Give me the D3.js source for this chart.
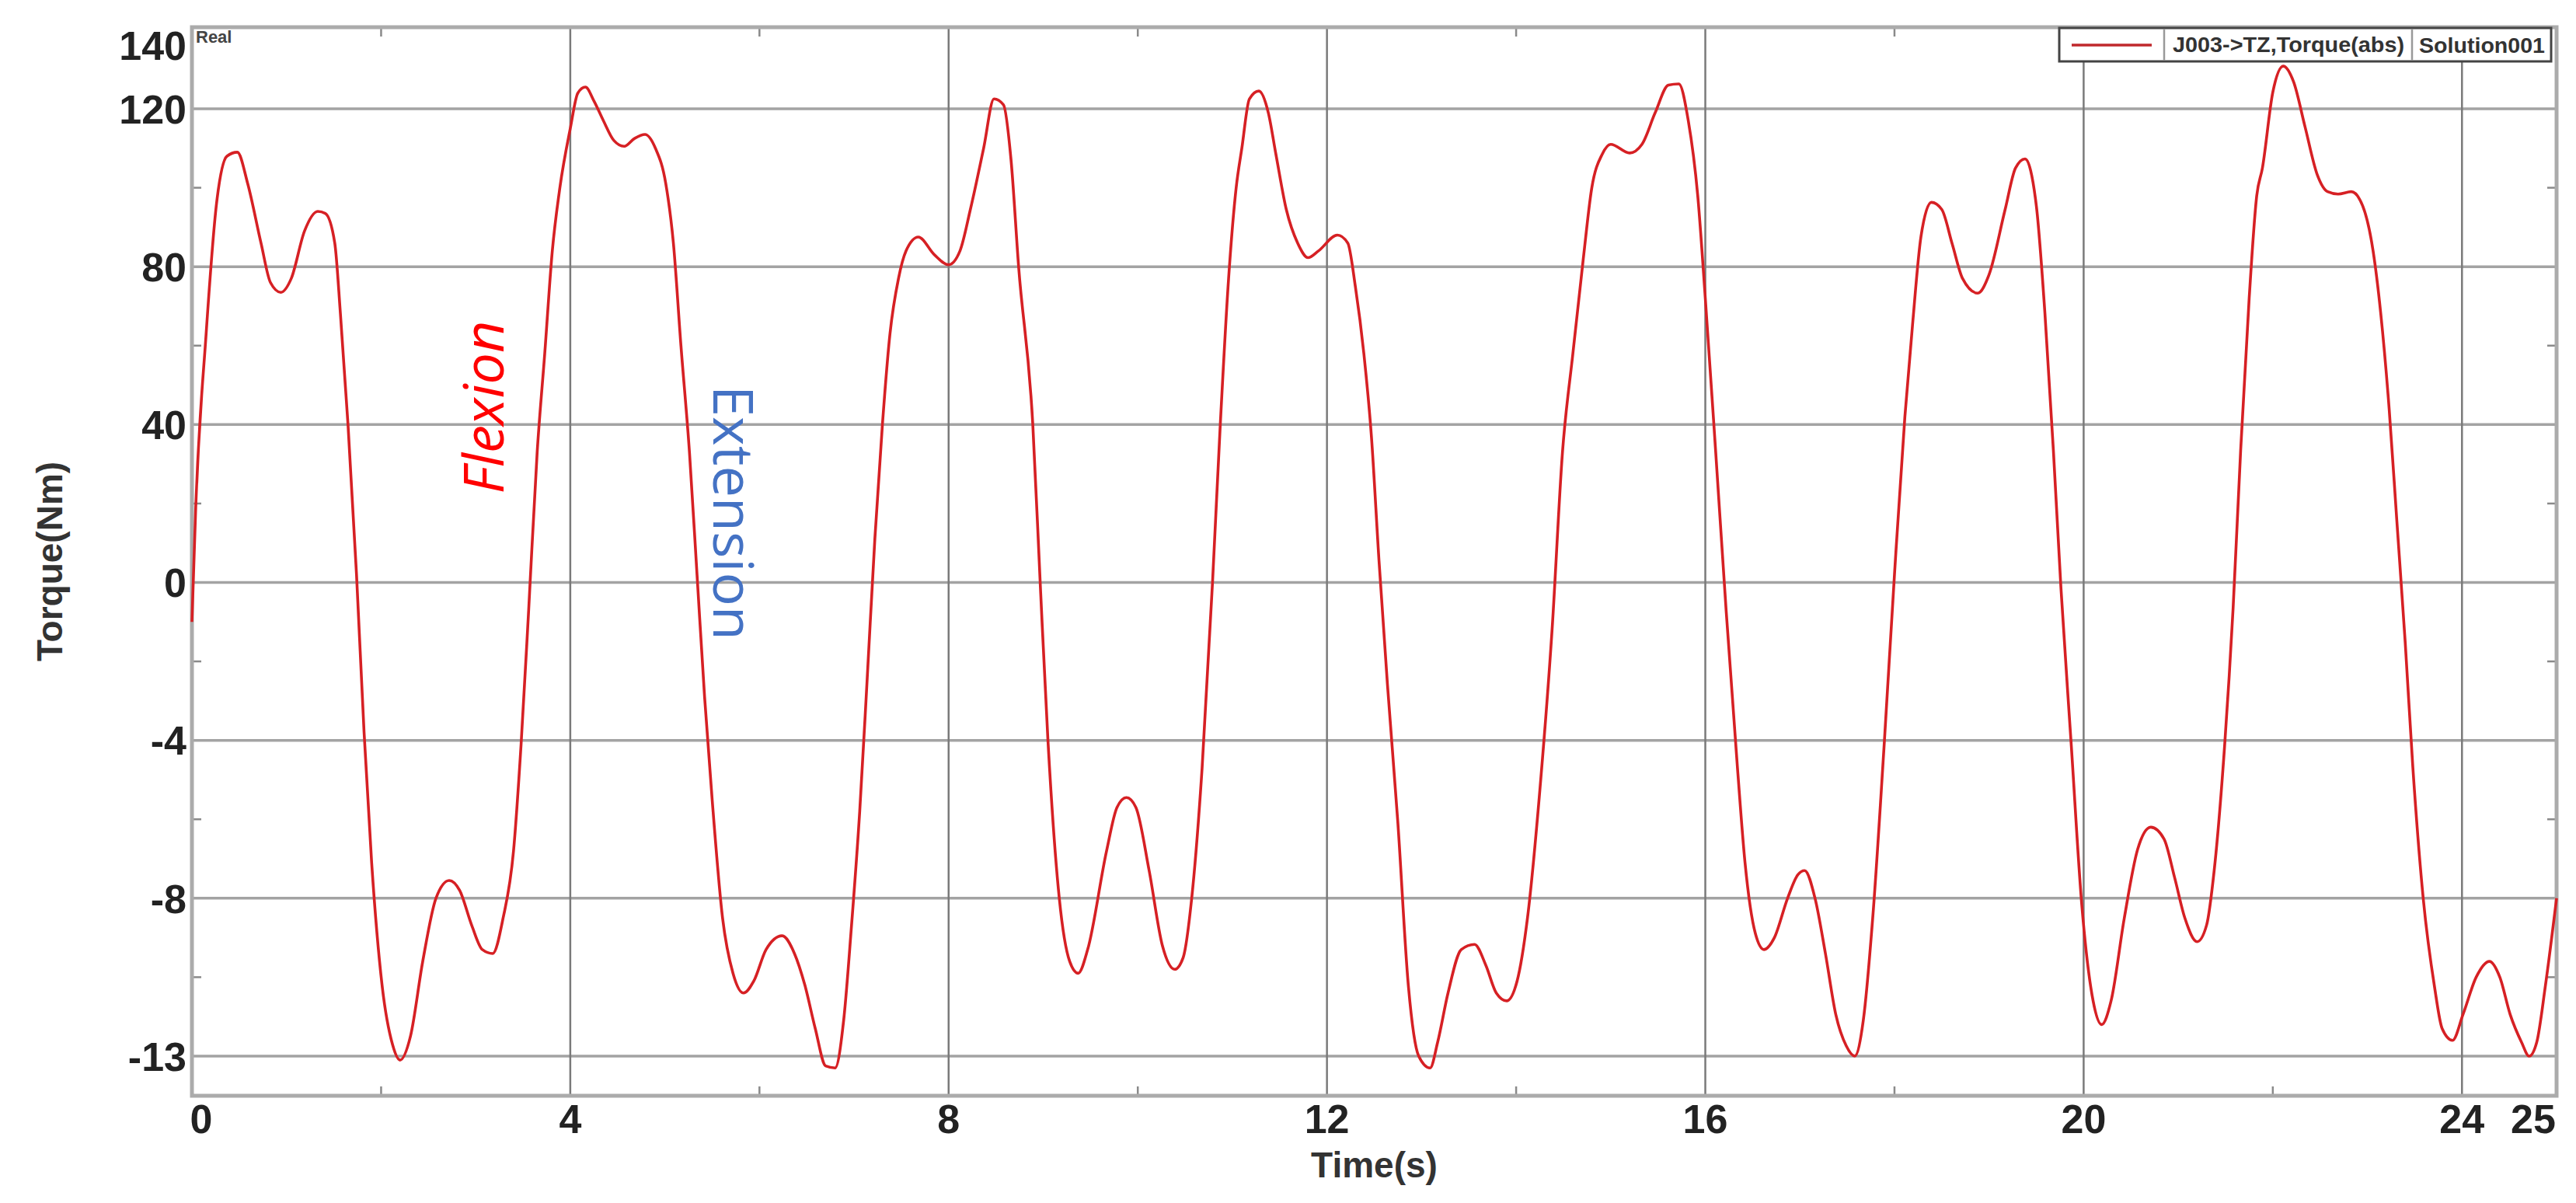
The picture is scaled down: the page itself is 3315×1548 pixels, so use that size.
<!DOCTYPE html>
<html>
<head>
<meta charset="utf-8">
<script src="https://cdn.jsdelivr.net/npm/d3@7"></script>
<style>
  body { margin: 0; background: #fff; }
  svg { display: block; }
</style>
</head>
<body>
<script>
// torque trace: [time s, torque]
const torque = [
  [0, -10], [0.04, 19], [0.15, 63], [0.26, 96], [0.37, 108], [0.48, 109], [0.59, 101], [0.73, 86],
  [0.83, 76], [0.94, 73.5], [1.05, 77], [1.19, 89], [1.33, 94], [1.41, 93.5], [1.51, 86], [1.57, 68],
  [1.65, 40], [1.74, 2], [1.82, -38], [1.9, -71], [2.01, -102], [2.12, -117], [2.2, -121], [2.31, -115],
  [2.44, -96], [2.58, -80], [2.72, -75.5], [2.83, -78], [2.96, -87], [3.07, -93], [3.18, -94], [3.29, -85],
  [3.4, -68], [3.48, -41], [3.56, -7], [3.65, 33], [3.73, 58], [3.81, 84], [3.89, 100], [4.0, 115],
  [4.08, 124], [4.16, 125.5], [4.25, 122], [4.35, 117], [4.46, 112], [4.57, 110.5], [4.68, 112.5], [4.79, 113.5],
  [4.9, 110], [5.01, 101], [5.09, 86], [5.17, 60], [5.26, 33], [5.34, 2], [5.42, -29], [5.5, -55],
  [5.61, -85], [5.72, -99], [5.83, -104], [5.94, -101], [6.07, -93], [6.24, -89.5], [6.37, -94], [6.48, -102],
  [6.59, -113], [6.7, -122.5], [6.8, -123], [6.89, -111], [6.97, -88], [7.06, -58], [7.14, -24], [7.22, 11],
  [7.3, 40], [7.38, 63], [7.47, 77], [7.55, 84], [7.68, 87.5], [7.85, 83], [8.0, 80.5], [8.12, 84],
  [8.23, 94.5], [8.37, 110], [8.48, 122.5], [8.58, 121], [8.66, 107], [8.74, 80], [8.89, 40], [8.97, -1],
  [9.05, -40], [9.17, -80], [9.28, -96], [9.37, -99], [9.47, -93], [9.67, -68], [9.78, -57], [9.88, -54.5],
  [9.98, -57], [10.12, -73], [10.26, -92], [10.39, -98], [10.48, -95], [10.57, -80], [10.68, -47], [10.79, 0],
  [10.87, 39], [10.96, 77], [11.04, 100], [11.1, 110], [11.18, 122.5], [11.28, 124.5], [11.38, 119], [11.46, 108.5],
  [11.57, 94.5], [11.69, 86], [11.8, 82.3], [11.91, 84], [12.11, 88], [12.22, 86], [12.3, 75], [12.39, 58],
  [12.47, 37], [12.55, 5.6], [12.64, -26], [12.75, -61], [12.86, -102], [12.97, -120], [13.09, -123], [13.17, -116.5],
  [13.28, -104], [13.42, -93], [13.56, -91.7], [13.68, -97], [13.79, -104], [13.9, -106], [14.01, -101], [14.12, -85],
  [14.26, -50], [14.38, -12], [14.49, 33], [14.6, 58], [14.71, 82], [14.8, 100], [14.91, 108.5], [15.0, 111],
  [15.2, 108.8], [15.33, 111], [15.47, 119], [15.61, 126], [15.72, 126.3], [15.82, 117], [15.92, 98], [16.0, 72],
  [16.11, 33], [16.22, -7], [16.34, -47], [16.42, -71], [16.53, -89], [16.62, -93], [16.73, -90], [16.87, -80],
  [16.98, -74], [17.05, -73], [17.16, -80], [17.27, -94], [17.38, -109.5], [17.49, -117.4], [17.58, -120], [17.67, -111],
  [17.77, -85], [17.89, -41.5], [18.0, 2], [18.11, 42], [18.19, 65], [18.28, 87.6], [18.39, 96.3], [18.5, 94.5],
  [18.61, 85.8], [18.72, 77], [18.88, 73.3], [19.0, 78], [19.17, 94.5], [19.28, 105], [19.38, 107.3], [19.5, 95.4],
  [19.59, 68.4], [19.68, 33.5], [19.76, -1.4], [19.87, -41.5], [19.98, -81.6], [20.1, -106], [20.19, -112], [20.29, -106],
  [20.43, -85], [20.57, -67.7], [20.71, -62], [20.85, -65], [20.96, -74.6], [21.07, -85], [21.2, -91], [21.3, -86.8],
  [21.38, -73], [21.49, -41.5], [21.58, -6.6], [21.66, 33.5], [21.75, 72], [21.83, 98], [21.89, 105], [22.0, 124.2],
  [22.11, 130.8], [22.22, 126.8], [22.34, 115.5], [22.47, 103.3], [22.58, 99], [22.69, 98.4], [22.83, 99], [22.95, 95.4],
  [23.06, 84], [23.14, 68.4], [23.23, 44], [23.31, 16], [23.4, -15.3], [23.48, -46.7], [23.59, -80], [23.71, -102.5],
  [23.79, -113], [23.9, -116], [24.01, -109.5], [24.15, -100], [24.29, -96], [24.4, -100], [24.51, -109.5], [24.63, -116.5],
  [24.71, -120], [24.79, -116.5], [24.88, -102.5], [25.0, -80]
];

// y tick labels as printed in the figure
const yTickValues = [140, 120, 80, 40, 0, -40, -80, -120];
const yTickLabels = ["140", "120", "80", "40", "0", "-4", "-8", "-13"];
const yGrid = [120, 80, 40, 0, -40, -80, -120];
const yMinor = [100, 60, 20, -20, -60, -100];
const xTickValues = [0, 4, 8, 12, 16, 20, 24, 25];
const xGrid = [4, 8, 12, 16, 20, 24];
const xMinor = [2, 6, 10, 14, 18, 22];
const legendLabel = "J003->TZ,Torque(abs)";
const legendSolution = "Solution001";

const W = 3315, H = 1548;
const pL = 247, pR = 3290, pT = 35, pB = 1410;

const x = d3.scaleLinear().domain([0, 25]).range([pL, pR]);
const y = d3.scaleLinear().domain([-120, 120]).range([1359, 140]);

const svg = d3.select("body").append("svg").attr("width", W).attr("height", H);
const font = "'Liberation Sans', Arial, sans-serif";

// gridlines
svg.append("g").selectAll("line").data(yGrid).join("line")
  .attr("x1", pL).attr("x2", pR).attr("y1", d => y(d)).attr("y2", d => y(d))
  .attr("stroke", "#a3a3a3").attr("stroke-width", 3.5);
svg.append("g").selectAll("line").data(xGrid).join("line")
  .attr("x1", d => x(d)).attr("x2", d => x(d)).attr("y1", pT).attr("y2", pB)
  .attr("stroke", "#7a7a7a").attr("stroke-width", 2.5);

// minor ticks
const tk = 12;
const minor = svg.append("g").attr("stroke", "#8a8a8a").attr("stroke-width", 2.5);
yMinor.forEach(v => {
  minor.append("line").attr("x1", pL).attr("x2", pL + tk).attr("y1", y(v)).attr("y2", y(v));
  minor.append("line").attr("x1", pR - tk).attr("x2", pR).attr("y1", y(v)).attr("y2", y(v));
});
xMinor.forEach(v => {
  minor.append("line").attr("x1", x(v)).attr("x2", x(v)).attr("y1", pB).attr("y2", pB - tk);
  minor.append("line").attr("x1", x(v)).attr("x2", x(v)).attr("y1", pT).attr("y2", pT + tk);
});

// frame
svg.append("rect").attr("x", pL).attr("y", pT).attr("width", pR - pL).attr("height", pB - pT)
  .attr("fill", "none").attr("stroke", "#ababab").attr("stroke-width", 5);

// curve
const line = d3.line().x(d => x(d[0])).y(d => y(d[1])).curve(d3.curveMonotoneX);
svg.append("path").datum(torque).attr("d", line)
  .attr("fill", "none").attr("stroke", "#d62024").attr("stroke-width", 3.6);

// y tick labels
svg.append("g").selectAll("text").data(yTickValues).join("text")
  .attr("x", 240).attr("y", (d, i) => i === 0 ? 58 : y(d))
  .attr("dy", "0.36em").attr("text-anchor", "end")
  .attr("font-family", font).attr("font-weight", "bold").attr("font-size", 52).attr("fill", "#222")
  .text((d, i) => yTickLabels[i]);

// x tick labels
svg.append("g").selectAll("text").data(xTickValues).join("text")
  .attr("x", d => d === 0 ? x(d) + 12 : d === 25 ? x(d) - 30 : x(d))
  .attr("y", 1458).attr("text-anchor", "middle")
  .attr("font-family", font).attr("font-weight", "bold").attr("font-size", 52).attr("fill", "#222")
  .text(d => d);

// axis titles
svg.append("text").attr("transform", `translate(80,${(pT + pB) / 2}) rotate(-90)`)
  .attr("text-anchor", "middle").attr("font-family", font).attr("font-weight", "bold")
  .attr("font-size", 46).attr("fill", "#333").text("Torque(Nm)");
svg.append("text").attr("x", (pL + pR) / 2).attr("y", 1515)
  .attr("text-anchor", "middle").attr("font-family", font).attr("font-weight", "bold")
  .attr("font-size", 46).attr("fill", "#333").text("Time(s)");

svg.append("text").attr("x", 252).attr("y", 55)
  .attr("font-family", font).attr("font-weight", "bold").attr("font-size", 22).attr("fill", "#444").text("Real");

// annotations
svg.append("text").attr("transform", "translate(648,524) rotate(-90)")
  .attr("text-anchor", "middle").attr("font-family", "'Open Sans', sans-serif").attr("font-style", "italic")
  .attr("font-size", 72).attr("fill", "#ff0000").text("Flexion");
svg.append("text").attr("transform", "translate(918,660) rotate(90)")
  .attr("text-anchor", "middle").attr("font-family", "'Open Sans', sans-serif")
  .attr("font-size", 72).attr("fill", "#4472c4").text("Extension");

// legend
const lg = svg.append("g");
lg.append("rect").attr("x", 2650).attr("y", 36).attr("width", 633).attr("height", 43)
  .attr("fill", "#fff").attr("stroke", "#444").attr("stroke-width", 3);
[2785, 3104].forEach(xx => lg.append("line").attr("x1", xx).attr("x2", xx).attr("y1", 37).attr("y2", 78)
  .attr("stroke", "#999").attr("stroke-width", 2.5));
lg.append("line").attr("x1", 2666).attr("x2", 2769).attr("y1", 58).attr("y2", 58)
  .attr("stroke", "#c0282c").attr("stroke-width", 3.5);
lg.append("text").attr("x", 2796).attr("y", 67).attr("font-family", font).attr("font-weight", "bold")
  .attr("font-size", 27).attr("fill", "#333")
  .attr("textLength", 298).attr("lengthAdjust", "spacingAndGlyphs").text(legendLabel);
lg.append("text").attr("x", 3113).attr("y", 68).attr("font-family", font).attr("font-weight", "bold")
  .attr("font-size", 27).attr("fill", "#333")
  .attr("textLength", 162).attr("lengthAdjust", "spacingAndGlyphs").text(legendSolution);
</script>
</body>
</html>
